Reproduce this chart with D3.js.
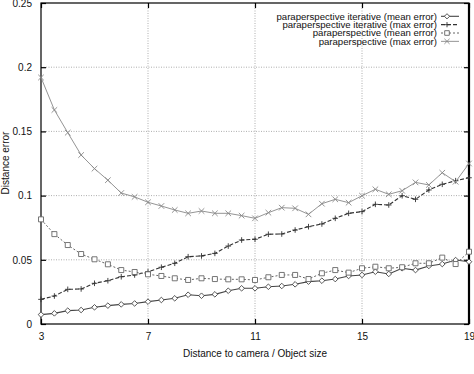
<!DOCTYPE html>
<html>
<head>
<meta charset="utf-8">
<script src="https://cdn.jsdelivr.net/npm/d3@7"></script>
<style>
  html, body { margin: 0; padding: 0; background: #fff; }
  svg { display: block; font-family: "Liberation Sans", Arial, sans-serif; }
  .tick-label { font-size: 10px; fill: #111; }
  .axis-title { font-size: 10px; fill: #111; }
  .legend-text { font-size: 9.6px; fill: #111; }
</style>
</head>
<body>
<svg id="chart" width="474" height="374"></svg>
<script>
// distance / object size
const distances = [3, 3.5, 4, 4.5, 5, 5.5, 6, 6.5, 7, 7.5, 8, 8.5, 9, 9.5, 10, 10.5, 11,
  11.5, 12, 12.5, 13, 13.5, 14, 14.5, 15, 15.5, 16, 16.5, 17, 17.5, 18, 18.5, 19];

const iterMean = [0.0073, 0.0083, 0.0104, 0.0109, 0.0130, 0.0143, 0.0153, 0.0160, 0.0174,
  0.0187, 0.0200, 0.0228, 0.0220, 0.0231, 0.0259, 0.0278, 0.0278, 0.0290, 0.0296, 0.0309,
  0.0330, 0.0337, 0.0350, 0.0374, 0.0382, 0.0407, 0.0390, 0.0434, 0.0420, 0.0452, 0.0467,
  0.0498, 0.0485];

const iterMax = [0.0192, 0.0218, 0.0270, 0.0273, 0.0317, 0.0337, 0.0368, 0.0382, 0.0407,
  0.0442, 0.0473, 0.0524, 0.0530, 0.0550, 0.0607, 0.0654, 0.0660, 0.0699, 0.0701, 0.0732,
  0.0758, 0.0779, 0.0823, 0.0862, 0.0875, 0.0932, 0.0927, 0.0999, 0.0971, 0.1044, 0.1088,
  0.1116, 0.1139];

const paraMean = [0.0815, 0.0700, 0.0615, 0.0545, 0.0504, 0.0465, 0.0420, 0.0405, 0.0387,
  0.0374, 0.0356, 0.0343, 0.0356, 0.0350, 0.0348, 0.0348, 0.0343, 0.0364, 0.0382, 0.0382,
  0.0350, 0.0395, 0.0420, 0.0400, 0.0434, 0.0446, 0.0434, 0.0442, 0.0473, 0.0473, 0.0517,
  0.0467, 0.0563];

const paraMax = [0.1920, 0.1667, 0.1490, 0.1316, 0.1210, 0.1120, 0.1020, 0.0990, 0.0948,
  0.0919, 0.0888, 0.0862, 0.0880, 0.0862, 0.0862, 0.0844, 0.0823, 0.0867, 0.0906, 0.0901,
  0.0854, 0.0937, 0.0971, 0.0945, 0.0999, 0.1049, 0.1010, 0.1038, 0.1103, 0.1083, 0.1178,
  0.1108, 0.1250];

const xTicks = [3, 7, 11, 15, 19];
const yTicks = [0, 0.05, 0.1, 0.15, 0.2, 0.25];

const series = [
  { name: "paraperspective iterative (mean error)", values: iterMean, marker: "diamond", stroke: "#444", dash: null, width: 1.1 },
  { name: "paraperspective iterative (max error)", values: iterMax, marker: "plus", stroke: "#333", dash: "4,2", width: 1.1 },
  { name: "paraperspective (mean error)", values: paraMean, marker: "square", stroke: "#666", dash: "2,2", width: 1 },
  { name: "paraperspective (max error)", values: paraMax, marker: "cross", stroke: "#888", dash: null, width: 0.9 }
];

const plotBox = { left: 41, right: 469, top: 3, bottom: 324 };

const svg = d3.select("#chart");
const x = d3.scaleLinear().domain([3, 19]).range([plotBox.left, plotBox.right]);
const y = d3.scaleLinear().domain([0, 0.25]).range([plotBox.bottom, plotBox.top]);

// grid
const grid = svg.append("g").attr("stroke", "#999").attr("stroke-width", 0.8).attr("stroke-dasharray", "1,1.5");
grid.selectAll("line.gx")
  .data(xTicks.slice(1, -1))
  .join("line")
  .attr("class", "gx")
  .attr("x1", (d) => x(d)).attr("x2", (d) => x(d))
  .attr("y1", plotBox.top).attr("y2", plotBox.bottom);
grid.selectAll("line.gy")
  .data(yTicks.slice(1, -1))
  .join("line")
  .attr("class", "gy")
  .attr("x1", plotBox.left).attr("x2", plotBox.right)
  .attr("y1", (d) => y(d)).attr("y2", (d) => y(d));

// axes (gnuplot-style inward ticks, mirrored)
const fmtY = (d) => (d === 0 ? "0" : String(+d.toFixed(2)));
const axisLeft = d3.axisLeft(y).tickValues(yTicks).tickSize(-5).tickPadding(9).tickFormat(fmtY);
const axisRight = d3.axisRight(y).tickValues(yTicks).tickSize(-5).tickFormat("");
const axisBottom = d3.axisBottom(x).tickValues(xTicks).tickSize(-5).tickPadding(9).tickFormat(d3.format("d"));
const axisTop = d3.axisTop(x).tickValues(xTicks).tickSize(-5).tickFormat("");

function styleAxis(g) {
  g.select(".domain").remove();
  g.selectAll(".tick line").attr("stroke", "#000").attr("stroke-width", 1.2);
  g.selectAll(".tick text").attr("class", "tick-label").attr("fill", "#111");
}

svg.append("g").attr("transform", `translate(${plotBox.left},0)`).call(axisLeft).call(styleAxis);
svg.append("g").attr("transform", `translate(${plotBox.right},0)`).call(axisRight).call(styleAxis);
svg.append("g").attr("transform", `translate(0,${plotBox.bottom})`).call(axisBottom).call(styleAxis);
svg.append("g").attr("transform", `translate(0,${plotBox.top})`).call(axisTop).call(styleAxis);

// frame
svg.append("rect")
  .attr("x", plotBox.left).attr("y", plotBox.top)
  .attr("width", plotBox.right - plotBox.left).attr("height", plotBox.bottom - plotBox.top)
  .attr("fill", "none").attr("stroke", "#000").attr("stroke-width", 1.2);
svg.append("line")
  .attr("x1", plotBox.right).attr("x2", plotBox.right).attr("y1", plotBox.top).attr("y2", plotBox.bottom)
  .attr("stroke", "#000").attr("stroke-width", 2.2);

// titles
svg.append("text")
  .attr("class", "axis-title")
  .attr("x", (plotBox.left + plotBox.right) / 2).attr("y", 357)
  .attr("text-anchor", "middle")
  .text("Distance to camera / Object size");
svg.append("text")
  .attr("class", "axis-title")
  .attr("transform", "translate(9,163) rotate(-90)")
  .attr("text-anchor", "middle")
  .text("Distance error");

function markerPath(type, s) {
  if (type === "diamond") return `M0,${-s}L${s},0L0,${s}L${-s},0Z`;
  if (type === "plus") return `M${-s},0H${s}M0,${-s}V${s}`;
  if (type === "square") return `M${-s},${-s}H${s}V${s}H${-s}Z`;
  return `M${-s},${-s}L${s},${s}M${-s},${s}L${s},${-s}`;
}

const line = d3.line().x((d) => x(d[0])).y((d) => y(d[1]));
const plot = svg.append("g");

series.forEach((s) => {
  const pts = distances.map((d, i) => [d, s.values[i]]);
  plot.append("path")
    .datum(pts)
    .attr("fill", "none")
    .attr("stroke", s.stroke)
    .attr("stroke-width", s.width)
    .attr("stroke-dasharray", s.dash)
    .attr("d", line);
  plot.append("g").selectAll("path")
    .data(pts)
    .join("path")
    .attr("transform", (d) => `translate(${x(d[0])},${y(d[1])})`)
    .attr("d", markerPath(s.marker, s.marker === "square" ? 2.5 : 2.8))
    .attr("fill", s.marker === "square" || s.marker === "diamond" ? "#fff" : "none")
    .attr("stroke", s.stroke)
    .attr("stroke-width", 0.9);
});

// legend
const legend = svg.append("g");
series.forEach((s, i) => {
  const ly = 16.3 + i * 8.35;
  legend.append("text")
    .attr("class", "legend-text")
    .attr("x", 437).attr("y", ly + 3.4)
    .attr("text-anchor", "end")
    .text(s.name);
  legend.append("line")
    .attr("x1", 441).attr("x2", 459).attr("y1", ly).attr("y2", ly)
    .attr("stroke", s.stroke).attr("stroke-width", s.width)
    .attr("stroke-dasharray", s.dash);
  legend.append("path")
    .attr("transform", `translate(447,${ly})`)
    .attr("d", markerPath(s.marker, s.marker === "square" ? 2.3 : 2.6))
    .attr("fill", s.marker === "square" || s.marker === "diamond" ? "#fff" : "none")
    .attr("stroke", s.stroke)
    .attr("stroke-width", 0.9);
});
</script>
</body>
</html>
